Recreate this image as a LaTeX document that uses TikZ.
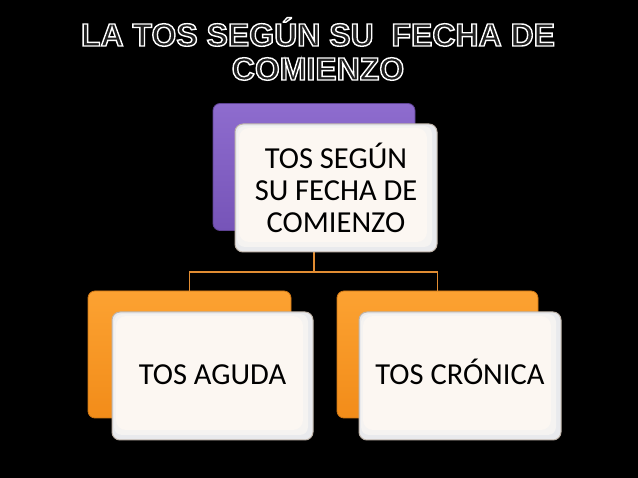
\documentclass[tikz,border=0pt]{standalone}
\usepackage{fontspec}
\setmainfont{Carlito}
\newfontfamily\titlefont{Liberation Sans Bold}
\definecolor{purpA}{RGB}{142,108,206}
\definecolor{purpB}{RGB}{118,84,184}
\definecolor{orgA}{RGB}{252,162,50}
\definecolor{orgB}{RGB}{242,140,25}
\definecolor{connc}{RGB}{225,140,50}
\definecolor{paper}{RGB}{252,247,242}
\definecolor{papermid}{RGB}{245,243,241}
\definecolor{paperedge}{RGB}{233,234,237}
\definecolor{paperline}{RGB}{190,180,170}
\newcommand{\outltext}[1]{\special{pdf:literal direct 2 Tr 1.4 w 1 1 1 RG 0.12 0.12 0.12 rg}#1\special{pdf:literal direct 0 Tr}}
\tikzset{
  backbox/.style={rectangle, rounded corners=7pt, line width=0.8pt},
  purplebox/.style={backbox, draw=purpB!80!black, top color=purpA, bottom color=purpB},
  orangebox/.style={backbox, draw=orgB!85!black, top color=orgA, bottom color=orgB},
  frontbox/.style={rectangle, rounded corners=8pt, draw=paperline, line width=1pt,
    fill=paperedge, text=black, align=center,
    font=\fontsize{30.5}{32}\selectfont,
    path picture={
      \fill[papermid, rounded corners=8pt] ([shift={(2pt,-2pt)}]path picture bounding box.north west) rectangle ([shift={(-5pt,5pt)}]path picture bounding box.south east);
      \fill[paper, rounded corners=10pt] ([shift={(4pt,-4pt)}]path picture bounding box.north west) rectangle ([shift={(-10pt,10pt)}]path picture bounding box.south east);
    }},
  onebox/.style={frontbox, text height=23pt, text depth=6pt},
  conn/.style={draw=connc, line width=1.4pt},
  titletext/.style={font=\titlefont\fontsize{32}{34}\selectfont, anchor=base, text=black}
}
\begin{document}
\begin{tikzpicture}[x=1pt,y=-1pt]
\fill[black] (0,0) rectangle (638,478);
\useasboundingbox (0,0) rectangle (638,478);
\node[titletext] (t1) at (318,46) {\outltext{LA TOS SEGÚN SU\ \ FECHA DE}};
\node[titletext] (t2) at (318,80) {\outltext{COMIENZO}};
\node[purplebox, minimum width=202pt, minimum height=127pt] (p) at (314,167) {};
\node[orangebox, minimum width=203pt, minimum height=127pt] (a) at (189.5,354.5) {};
\node[orangebox, minimum width=201pt, minimum height=127pt] (c) at (437.5,354.5) {};
\coordinate (j) at (314,272);
\draw[conn] (p.south) -- (j);
\draw[conn] (j) -| (a.north);
\draw[conn] (j) -| (c.north);
\node[frontbox, minimum width=202pt, minimum height=128pt] (pt) at (336,188) {TOS SEGÚN\\SU FECHA DE\\COMIENZO};
\node[onebox, minimum width=201pt, minimum height=128pt] (at) at (212.5,376) {TOS AGUDA};
\node[onebox, minimum width=202pt, minimum height=128pt] (ct) at (460,376) {TOS CRÓNICA};
\end{tikzpicture}
\end{document}
